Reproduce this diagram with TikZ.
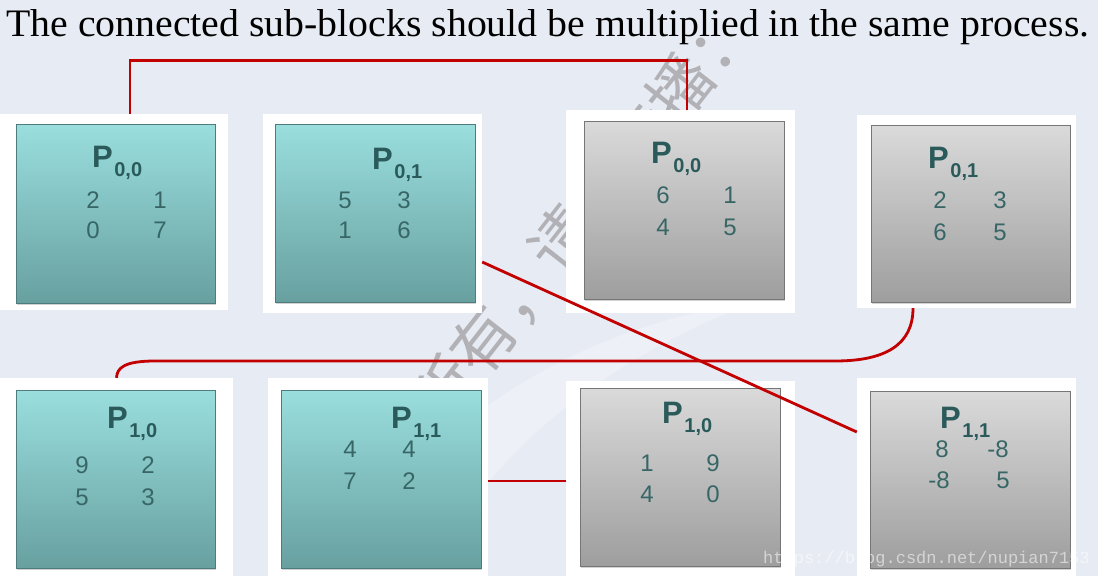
\documentclass[tikz,border=0pt]{standalone}
\usepackage{fontspec}
\setmainfont{Liberation Serif}
\newfontfamily\arialf{Liberation Sans}
\newfontfamily\cjkf{Noto Sans CJK SC}
\newfontfamily\monof{Liberation Mono}
\usetikzlibrary{fit,shadows}
\definecolor{bgc}{RGB}{231,235,243}
\definecolor{redl}{RGB}{194,0,0}
\definecolor{tealtop}{RGB}{154,222,222}
\definecolor{tealbot}{RGB}{104,160,160}
\definecolor{tealedge}{RGB}{78,124,124}
\definecolor{greytop}{RGB}{218,218,218}
\definecolor{greybot}{RGB}{158,158,158}
\definecolor{greyedge}{RGB}{118,118,118}
\definecolor{ptxt}{RGB}{42,90,90}
\definecolor{ntxt}{RGB}{56,102,102}
\definecolor{wmc}{RGB}{168,168,172}
\tikzset{
  wbg/.style={fill=white, draw=none, inner sep=0pt},
  tealbox/.style={inner sep=0pt, top color=tealtop, bottom color=tealbot,
    draw=tealedge, line width=0.9pt,
    drop shadow={shadow xshift=1pt, shadow yshift=-2pt, opacity=0.35}},
  greybox/.style={inner sep=0pt, top color=greytop, bottom color=greybot,
    draw=greyedge, line width=0.9pt,
    drop shadow={shadow xshift=1pt, shadow yshift=-2pt, opacity=0.35}},
  plab/.style={anchor=base west, inner sep=0pt, text=ptxt,
    font=\arialf\bfseries\fontsize{31}{31}\selectfont},
  num/.style={anchor=base, inner sep=0pt, text=ntxt,
    font=\arialf\fontsize{24}{24}\selectfont},
  conn/.style={draw=redl, line width=2.8pt},
}
\newcommand{\psub}[1]{P\kern1.5pt\raisebox{-9pt}{\fontsize{20}{20}\selectfont #1}}
\begin{document}
\begin{tikzpicture}[x=1pt,y=-1pt]
\path[use as bounding box, fill=bgc] (0,0) rectangle (1098,576);
% faint background swoosh
\fill[white, opacity=0.25] (330,576) .. controls (420,430) and (560,330) .. (760,300)
  .. controls (600,360) and (480,460) .. (430,576) -- cycle;
% watermark
\node[rotate=52, text=wmc, opacity=0.85, inner sep=0pt,
  font=\cjkf\fontsize{64}{64}\selectfont] (wm) at (543,265) {版权所有，请勿传播：};
% title
\node[anchor=base west, inner sep=0pt] (title) at (6,36)
  {\resizebox{1083pt}{27pt}{The connected sub-blocks should be multiplied in the same process.}};
% white backings
\node[wbg, fit={(0,114)(228,310)}] (Aw) {};
\node[wbg, fit={(263,114)(482,313)}] (Bw) {};
\node[wbg, fit={(566,110)(795,313)}] (Cw) {};
\node[wbg, fit={(857,115)(1076,308)}] (Dw) {};
\node[wbg, fit={(0,378)(233,576)}] (Ew) {};
\node[wbg, fit={(268,378)(488,576)}] (Fw) {};
\node[wbg, fit={(566,381)(795,576)}] (Gw) {};
\node[wbg, fit={(857,378)(1076,576)}] (Hw) {};
% boxes
\node[tealbox, fit={(16,124)(215,303)}] (A) {};
\node[tealbox, fit={(275,124)(475,302)}] (B) {};
\node[greybox, fit={(584,121)(784,299)}] (C) {};
\node[greybox, fit={(871,125)(1070,302)}] (D) {};
\node[tealbox, fit={(16,390)(215,568)}] (E) {};
\node[tealbox, fit={(281,390)(481,568)}] (F) {};
\node[greybox, fit={(580,388)(780,566)}] (G) {};
\node[greybox, fit={(870,391)(1070,568)}] (H) {};
% labels
\node[plab] (Ap) at (92,167) {\psub{0,0}};
\node[plab] (Bp) at (372,169) {\psub{0,1}};
\node[plab] (Cp) at (651,163) {\psub{0,0}};
\node[plab] (Dp) at (928,168) {\psub{0,1}};
\node[plab] (Ep) at (107,428) {\psub{1,0}};
\node[plab] (Fp) at (391,428) {\psub{1,1}};
\node[plab] (Gp) at (662,423) {\psub{1,0}};
\node[plab] (Hp) at (940,428) {\psub{1,1}};
% numbers
\node[num] (a11) at (93,208) {2};  \node[num] (a12) at (160,208) {1};
\node[num] (a21) at (93,238) {0};  \node[num] (a22) at (160,238) {7};
\node[num] (b11) at (345,208) {5}; \node[num] (b12) at (404,208) {3};
\node[num] (b21) at (345,238) {1}; \node[num] (b22) at (404,238) {6};
\node[num] (c11) at (663,203) {6}; \node[num] (c12) at (730,203) {1};
\node[num] (c21) at (663,235) {4}; \node[num] (c22) at (730,235) {5};
\node[num] (d11) at (940,208) {2}; \node[num] (d12) at (1000,208) {3};
\node[num] (d21) at (940,240) {6}; \node[num] (d22) at (1000,240) {5};
\node[num] (e11) at (82,473) {9};  \node[num] (e12) at (148,473) {2};
\node[num] (e21) at (82,505) {5};  \node[num] (e22) at (148,505) {3};
\node[num] (f11) at (350,457) {4}; \node[num] (f12) at (409,457) {4};
\node[num] (f21) at (350,489) {7}; \node[num] (f22) at (409,489) {2};
\node[num] (g11) at (647,471) {1}; \node[num] (g12) at (713,471) {9};
\node[num] (g21) at (647,502) {4}; \node[num] (g22) at (713,502) {0};
\node[num] (h11) at (942,457) {8}; \node[num] (h12) at (998,457) {-8};
\node[num] (h21) at (939,488) {-8}; \node[num] (h22) at (1003,488) {5};
% url watermark
\node[anchor=base west, inner sep=0pt, text=white, opacity=0.55,
  font=\monof\fontsize{17}{17}\selectfont] (url) at (763,563) {https://blog.csdn.net/nupian7153};
% connectors
\draw[conn] ([xshift=16pt]Aw.north) -- ++(0,-53) -| ([xshift=6.5pt]Cw.north);
\draw[conn] ([yshift=-48.5pt]Bw.east) -- ([yshift=45pt]Hw.west);
\draw[conn] ([xshift=-53.5pt]Dw.south) .. controls (913,345) and (885,361) .. (835,361)
  -- (155,361) .. controls (124,361) and (117,368) .. (Ew.north);
\draw[conn] ([yshift=-4pt]Fw.east) -- ([yshift=-2.5pt]Gw.west);
\end{tikzpicture}
\end{document}
